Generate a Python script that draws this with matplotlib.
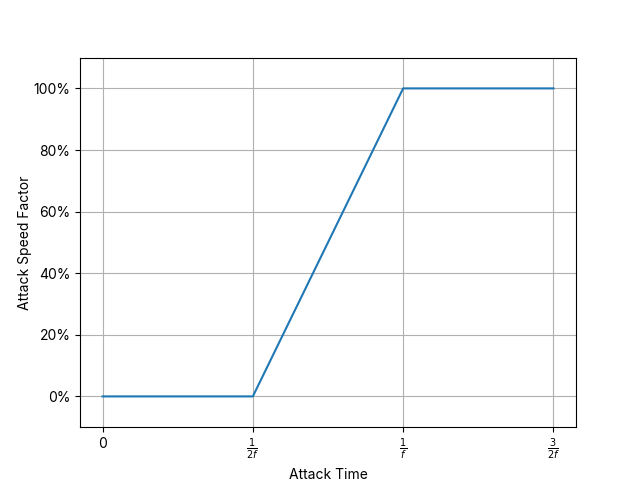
import matplotlib
matplotlib.use("Agg")
import matplotlib.pyplot as plt
from matplotlib.ticker import PercentFormatter

plt.rcParams['font.family'] = ['Inter', 'DejaVu Sans']

attack_time = [0, 0.5, 1, 1.5]
speed_factor = [0, 0, 1, 1]
xtick_pos = [0, 0.5, 1, 1.5]
xtick_labels = ['0', r'$\frac{1}{2f}$', r'$\frac{1}{f}$', r'$\frac{3}{2f}$']

fig, ax = plt.subplots(figsize=(6.4, 4.8), dpi=100)
ax.plot(attack_time, speed_factor, color='#1f77b4')
ax.set_ylim(-0.1, 1.1)
ax.set_xticks(xtick_pos)
ax.set_xticklabels(xtick_labels)
ax.yaxis.set_major_formatter(PercentFormatter(1.0, decimals=0))
ax.grid(True)
ax.set_xlabel('Attack Time')
ax.set_ylabel('Attack Speed Factor', labelpad=1)
fig.savefig('out.png')
